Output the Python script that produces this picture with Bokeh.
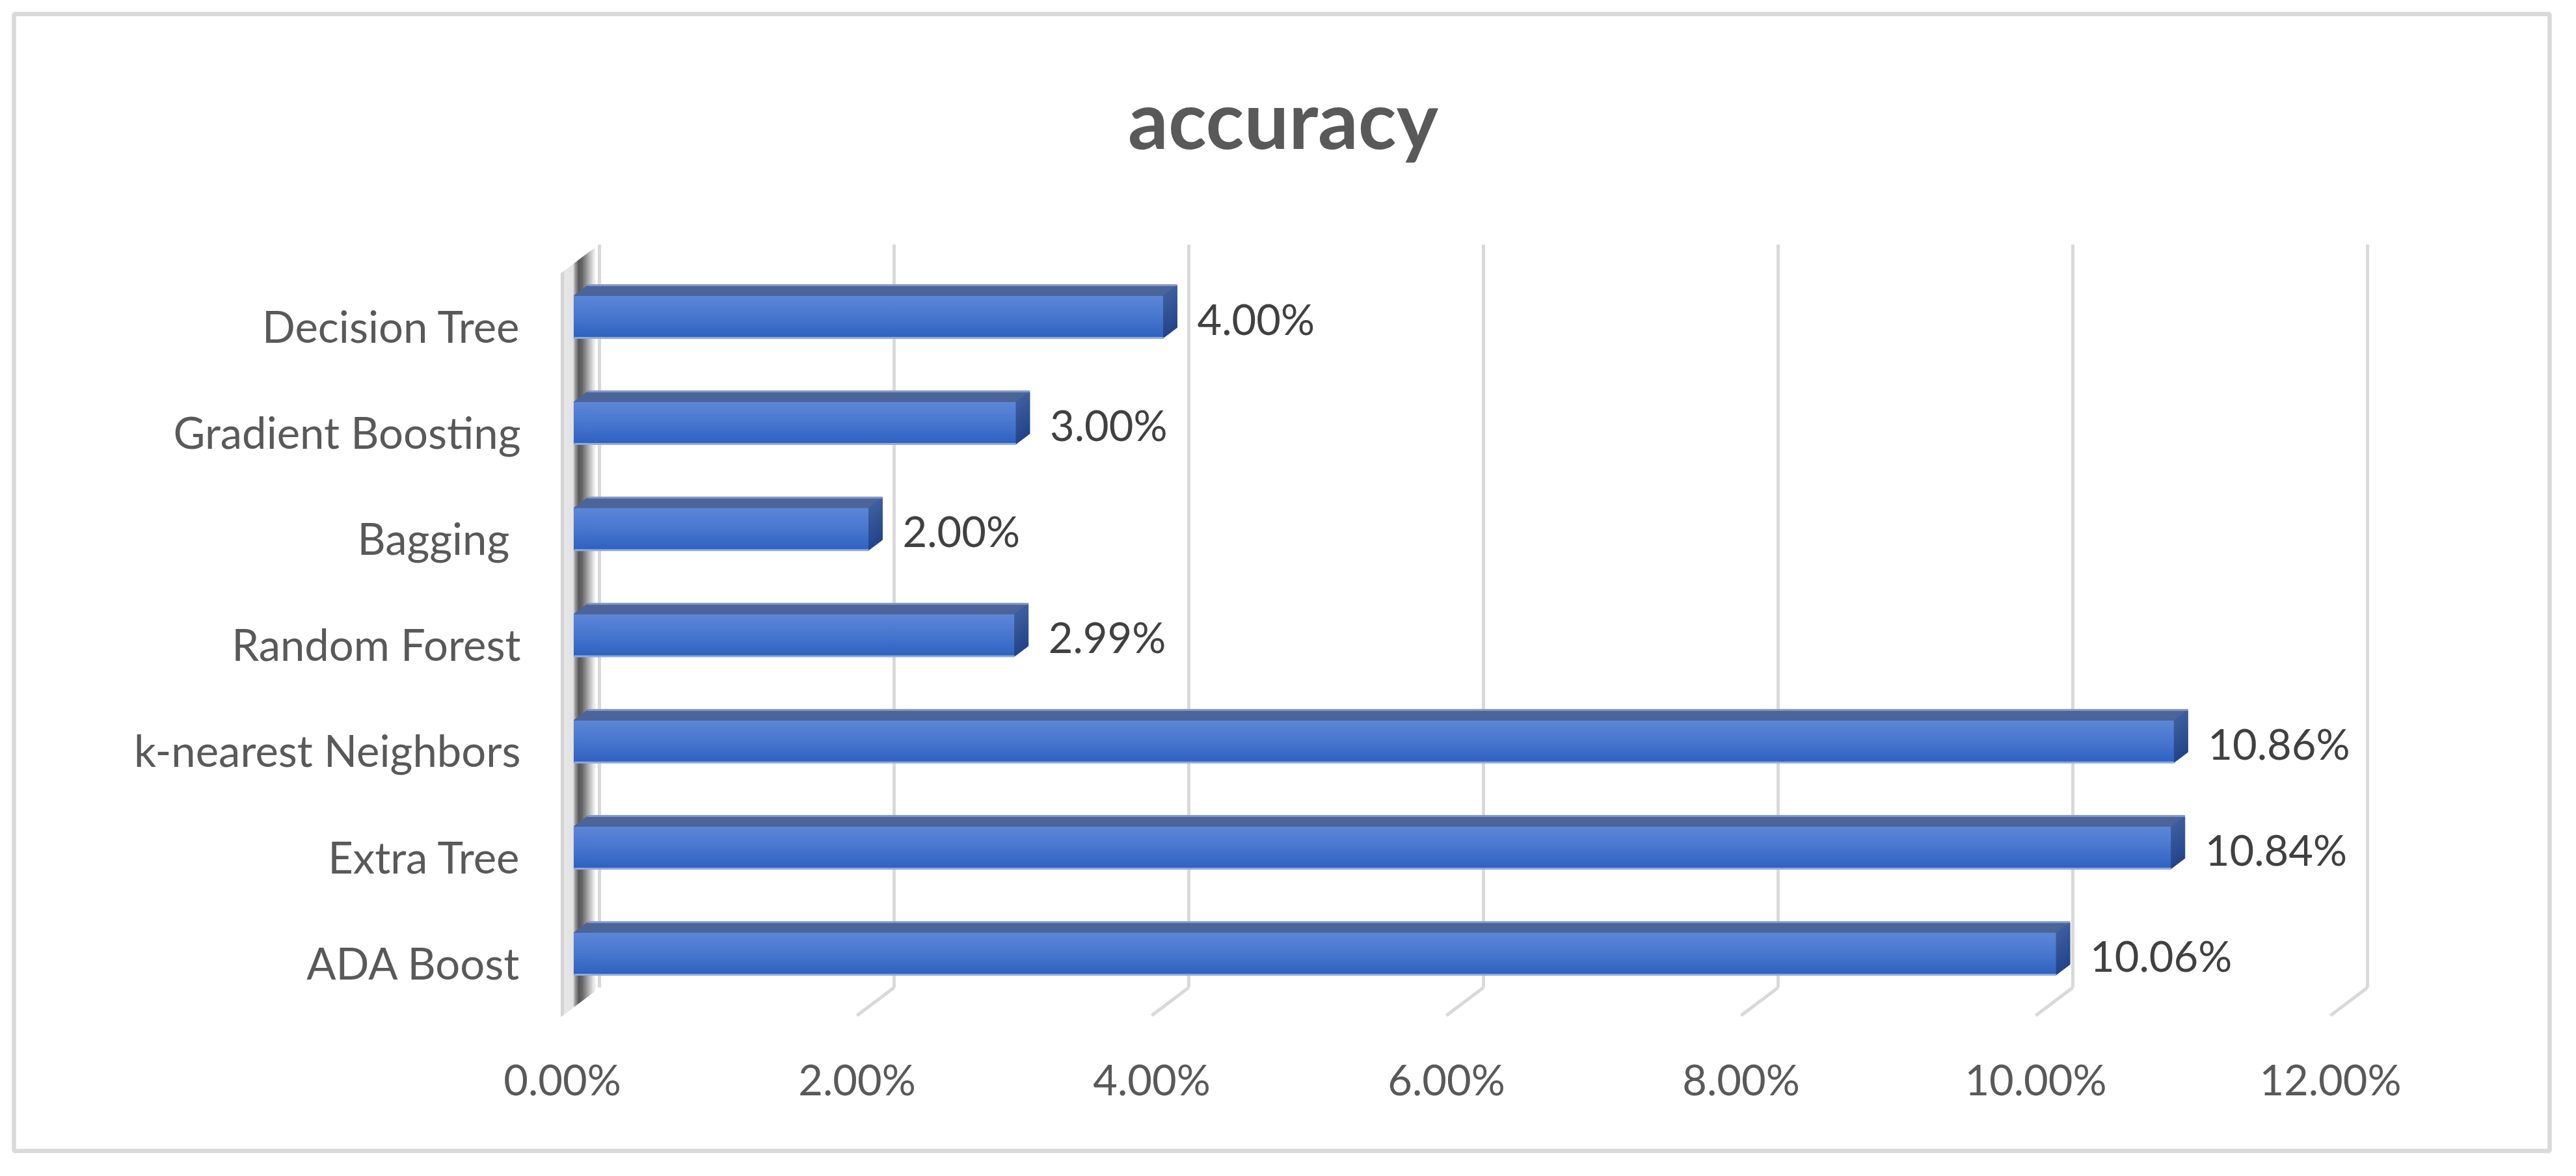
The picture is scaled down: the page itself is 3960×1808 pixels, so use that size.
from bokeh.plotting import figure
from bokeh.models import FixedTicker, PrintfTickFormatter, Range1d, ColumnDataSource
from bokeh.core.properties import value
from bokeh.embed import file_html
from bokeh.resources import INLINE

# ---------------- data ----------------
title_text = "accuracy"
categories = ["ADA Boost", "Extra Tree", "k-nearest Neighbors", "Random Forest",
              "Bagging ", "Gradient Boosting", "Decision Tree"]
accuracy = [10.06, 10.84, 10.86, 2.99, 2.00, 3.00, 4.00]   # percent
x_ticks = [0, 2, 4, 6, 8, 10, 12]

# ---------------- layout constants (canvas px) ----------------
W, H = 3944, 1792
PX, PY = 226.5, 163.2            # px per 1 %, px per category
X0, Y6 = 864, 500                # canvas px of x=0 and of category index 6 (front plane)


def cx(px):   # canvas px -> data x
    return (px - X0) / PX


def cy(py):   # canvas px -> data y
    return 6 + (Y6 - py) / PY


DX, DY = 57 / PX, 43 / PY        # 3-D depth vector in data units
D1, D2 = 0.316, 0.684            # bar depth extent
BH = 0.398                       # bar front-face height (category units)

FONT = "Lato"
GRID = "#d9d9d9"

p = figure(width=W, height=H, output_backend="svg", toolbar_location=None,
           title=None,
           x_range=Range1d(cx(0), cx(W)), y_range=Range1d(cy(H), cy(0)),
           min_border_left=0, min_border_right=0,
           min_border_top=0, min_border_bottom=0)
p.background_fill_color = "white"
p.border_fill_color = "white"
p.outline_line_color = None
p.xgrid.visible = False
p.ygrid.visible = False

n_cat = len(categories)
ylo, yhi = -0.5, n_cat - 0.5

# ---------------- axes (drawn inside the frame) ----------------
xa = p.xaxis[0]
xa.fixed_location = ylo
xa.ticker = FixedTicker(ticks=x_ticks)
xa.formatter = PrintfTickFormatter(format="%.2f%%")
xa.axis_line_color = None
xa.major_tick_line_color = None
xa.minor_tick_line_color = None
xa.major_tick_out = 0
xa.major_tick_in = 0
xa.minor_tick_out = 0
xa.minor_tick_in = 0
xa.major_label_text_font = FONT
xa.major_label_text_font_size = "65px"
xa.major_label_text_color = "#595959"
xa.major_label_standoff = 59

ya = p.yaxis[0]
ya.fixed_location = cx(844)
ya.ticker = FixedTicker(ticks=list(range(n_cat)))
ya.major_label_overrides = {i: c for i, c in enumerate(categories)}
ya.axis_line_color = None
ya.major_tick_line_color = None
ya.minor_tick_line_color = None
ya.major_tick_out = 0
ya.major_tick_in = 0
ya.minor_tick_out = 0
ya.minor_tick_in = 0
ya.major_label_text_font = FONT
ya.major_label_text_font_size = "67px"
ya.major_label_text_color = "#595959"
ya.major_label_standoff = 44


def mix(c1, c2, t):
    a = [int(c1[i:i + 2], 16) for i in (1, 3, 5)]
    b = [int(c2[i:i + 2], 16) for i in (1, 3, 5)]
    return "#%02x%02x%02x" % tuple(round(a[k] + (b[k] - a[k]) * t) for k in range(3))


def ramp(stops, t):
    for (t0, c0), (t1, c1) in zip(stops, stops[1:]):
        if t0 <= t <= t1:
            return mix(c0, c1, (t - t0) / (t1 - t0) if t1 > t0 else 0)
    return stops[-1][1]


# ---------------- chart border ----------------
p.quad(left=[cx(21)], right=[cx(3919)], top=[cy(21)], bottom=[cy(1769)],
       fill_color=None, line_color=GRID, line_width=6.5)

# ---------------- title ----------------
p.text(x=[cx(1972)], y=[cy(181)], text=[title_text],
       text_font=value(FONT), text_font_style="bold", text_font_size="122px",
       text_color="#595959", text_align="center", text_baseline="alphabetic")

# ---------------- left side wall (x = 0 plane) ----------------
wall_stops = [(-0.035, "#d2d2d2"), (0.05, "#d6d6d6"), (0.07, "#e8e8e8"), (0.30, "#e2e2e2"),
              (0.34, "#a8a8a8"), (0.45, "#575757"), (0.55, "#686868"), (0.70, "#a8a8a8"),
              (0.82, "#dadada"), (0.88, "#f2f2f2")]
NW = 40
wx, wy, wc = [], [], []
d_lo, d_hi = -0.035, 0.88
for k in range(NW):
    da = d_lo + (d_hi - d_lo) * k / NW
    db = d_lo + (d_hi - d_lo) * (k + 1) / NW
    wx.append([da * DX, db * DX, db * DX, da * DX])
    wy.append([ylo + da * DY, ylo + db * DY, yhi + db * DY, yhi + da * DY])
    wc.append(ramp(wall_stops, (da + db) / 2))
p.patches(wx, wy, fill_color=wc, line_color=wc, line_width=1)

# ---------------- back-wall gridlines + floor slants ----------------
p.segment(x0=[t + DX for t in x_ticks], y0=[ylo + DY] * len(x_ticks),
          x1=[t + DX for t in x_ticks], y1=[yhi + DY] * len(x_ticks),
          line_color=GRID, line_width=5)
slant = [t for t in x_ticks if t > 0]
p.segment(x0=[t + DX for t in slant], y0=[ylo + DY] * len(slant),
          x1=slant, y1=[ylo] * len(slant), line_color=GRID, line_width=5)

# ---------------- 3-D bars ----------------
front_stops = [(0.0, "#5d87d7"), (0.45, "#4a79d0"), (1.0, "#2e61c0")]
end_stops = [(0.0, "#3d5e9e"), (1.0, "#22438a")]
NS = 16
qx0, qx1, qt, qb, qc = [], [], [], [], []
tx, ty, ex, ey, ec = [], [], [], [], []
for i, v in enumerate(accuracy):
    x_l, x_r = D1 * DX, v + D1 * DX
    top1 = i + BH / 2 + D1 * DY
    bot1 = i - BH / 2 + D1 * DY
    sh_x, sh_y = (D2 - D1) * DX, (D2 - D1) * DY
    for k in range(NS):
        t0, t1 = k / NS, (k + 1) / NS
        ya0 = top1 - (top1 - bot1) * t0
        ya1 = top1 - (top1 - bot1) * t1
        qx0.append(x_l)
        qx1.append(x_r)
        qt.append(ya0)
        qb.append(ya1)
        qc.append(ramp(front_stops, (t0 + t1) / 2))
        ex.append([x_r, x_r, x_r + sh_x, x_r + sh_x])
        ey.append([ya1, ya0, ya0 + sh_y, ya1 + sh_y])
        ec.append(ramp(end_stops, (t0 + t1) / 2))
    tx.append([x_l, x_r, x_r + sh_x, x_l + sh_x])
    ty.append([top1, top1, top1 + sh_y, top1 + sh_y])

p.quad(left=qx0, right=qx1, top=qt, bottom=qb, fill_color=qc, line_color=qc, line_width=1)
p.patches(tx, ty, fill_color="#4b6499", line_color="#4b6499", line_width=1)
p.patches(ex, ey, fill_color=ec, line_color=ec, line_width=1)
p.segment(x0=[D1 * DX] * n_cat, x1=[v + D1 * DX for v in accuracy],
          y0=[i - BH / 2 + D1 * DY for i in range(n_cat)],
          y1=[i - BH / 2 + D1 * DY for i in range(n_cat)],
          line_color="#8eaadf", line_width=3)
p.segment(x0=[D2 * DX] * n_cat, x1=[v + D2 * DX for v in accuracy],
          y0=[i + BH / 2 + D2 * DY for i in range(n_cat)],
          y1=[i + BH / 2 + D2 * DY for i in range(n_cat)],
          line_color="#8299c6", line_width=3)

# ---------------- data labels ----------------
lab = ColumnDataSource(dict(x=[v + D2 * DX for v in accuracy],
                            y=[i + 0.066 for i in range(n_cat)],
                            t=["%.2f%%" % v for v in accuracy]))
p.text(x="x", y="y", text="t", source=lab, x_offset=31,
       text_font=value(FONT), text_font_size="65px", text_color="#404040",
       text_align="left", text_baseline="middle")

open("out.html", "w").write(file_html(p, INLINE))
